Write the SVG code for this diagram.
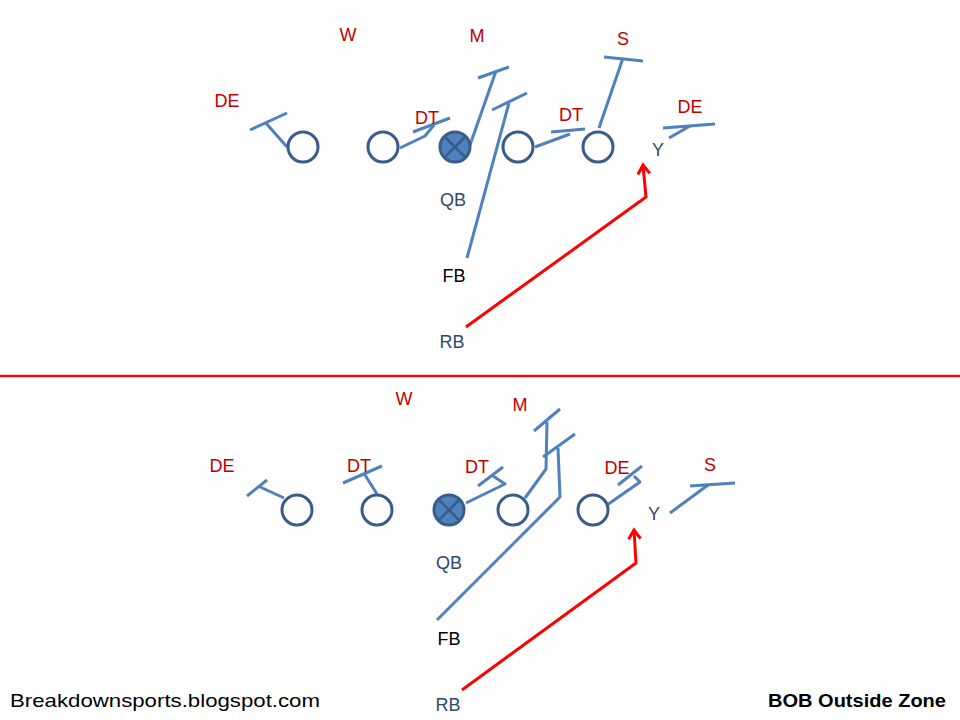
<svg xmlns="http://www.w3.org/2000/svg" width="960" height="720" viewBox="0 0 960 720">
<style>
.bg{fill:#FFFFFF}
.pl{fill:#FFFFFF;stroke:#385D8A;stroke-width:3}
.qb{fill:#4F81BD;stroke:#385D8A;stroke-width:3}
.x{stroke:#385D8A;stroke-width:2.5}
.blk{fill:none;stroke:#4F81BD;stroke-width:3;stroke-linejoin:round}
.run{fill:none;stroke:#FF0000;stroke-width:3;stroke-linejoin:round}
.div{stroke:#E81010;stroke-width:2.5}
text{font-family:"Liberation Sans","DejaVu Sans",sans-serif;font-size:18px;text-anchor:middle}
.def{fill:#C00000}
.off{fill:#2E4A6B}
.fb{fill:#000000}
.foot{fill:#000000;font-size:19px}
.title{fill:#000000;font-size:19px;font-weight:bold}
</style>
<defs>
<marker id="arr" viewBox="0 0 20 20" refX="10" refY="10" markerWidth="20" markerHeight="20" markerUnits="userSpaceOnUse" orient="auto">
<path d="M1,4 L10,10 L1,16" fill="none" stroke="#FF0000" stroke-width="3"/>
</marker>
</defs>
<rect class="bg" x="0" y="0" width="960" height="720"/>

<g id="divider"><line class="div" x1="0" y1="376" x2="960" y2="376"/></g>

<!-- TOP PLAY -->
<g id="top-connectors">
<polyline class="blk" points="287,147 265,122"/>
<line class="blk" x1="250" y1="130" x2="287" y2="113"/>
<polyline class="blk" points="400,148 425,136 434,125"/>
<line class="blk" x1="413" y1="132" x2="450" y2="118"/>
<polyline class="blk" points="470,145 496,71"/>
<line class="blk" x1="478" y1="78" x2="509" y2="67"/>
<polyline class="blk" points="467,258 509,103"/>
<line class="blk" x1="492" y1="110" x2="527" y2="93"/>
<polyline class="blk" points="535,147 570,134"/>
<line class="blk" x1="551" y1="132" x2="585" y2="129"/>
<polyline class="blk" points="599,128 623,58"/>
<line class="blk" x1="604" y1="57" x2="643" y2="61"/>
<polyline class="blk" points="669,138 690,126"/>
<line class="blk" x1="663" y1="128" x2="715" y2="124"/>
<polyline class="run" points="466,327 646,197 643,165" marker-end="url(#arr)"/>
</g>

<g id="top-LT"><circle class="pl" cx="303" cy="147" r="15"/></g>
<g id="top-LG"><circle class="pl" cx="383" cy="147" r="15"/></g>
<g id="top-C"><circle class="qb" cx="455" cy="147" r="15"/><line class="x" x1="444.5" y1="136.5" x2="465.5" y2="157.5"/><line class="x" x1="465.5" y1="136.5" x2="444.5" y2="157.5"/></g>
<g id="top-RG"><circle class="pl" cx="518" cy="147" r="15"/></g>
<g id="top-RT"><circle class="pl" cx="598" cy="147" r="15"/></g>

<g id="top-labels">
<text class="def" x="348" y="41">W</text>
<text class="def" x="477" y="42">M</text>
<text class="def" x="623" y="45">S</text>
<text class="def" x="227" y="107">DE</text>
<text class="def" x="427" y="124">DT</text>
<text class="def" x="571" y="121">DT</text>
<text class="def" x="690" y="113">DE</text>
<text class="off" x="658" y="156">Y</text>
<text class="off" x="453" y="206">QB</text>
<text class="fb" x="454" y="282">FB</text>
<text class="off" x="452" y="348">RB</text>
</g>

<!-- BOTTOM PLAY -->
<g id="bottom-connectors">
<polyline class="blk" points="284,498 258,486"/>
<line class="blk" x1="247" y1="496" x2="267" y2="480"/>
<polyline class="blk" points="377,494 365,475"/>
<line class="blk" x1="343" y1="483" x2="382" y2="466"/>
<polyline class="blk" points="466,503 505,484 493,476"/>
<line class="blk" x1="478" y1="486" x2="503" y2="467"/>
<polyline class="blk" points="525,498 546,469 547,422"/>
<line class="blk" x1="534" y1="431" x2="560" y2="409"/>
<polyline class="blk" points="437,620 560,497 558,448"/>
<line class="blk" x1="543" y1="457" x2="575" y2="434"/>
<polyline class="blk" points="607,505 640,482 634,476"/>
<line class="blk" x1="618" y1="485" x2="642" y2="466"/>
<polyline class="blk" points="670,513 708,485"/>
<line class="blk" x1="690" y1="486" x2="735" y2="483"/>
<polyline class="run" points="462,690 636,563 634,530" marker-end="url(#arr)"/>
</g>

<g id="bot-LT"><circle class="pl" cx="297" cy="510" r="15"/></g>
<g id="bot-LG"><circle class="pl" cx="377" cy="510" r="15"/></g>
<g id="bot-C"><circle class="qb" cx="449" cy="510" r="15"/><line class="x" x1="438.5" y1="499.5" x2="459.5" y2="520.5"/><line class="x" x1="459.5" y1="499.5" x2="438.5" y2="520.5"/></g>
<g id="bot-RG"><circle class="pl" cx="513" cy="510" r="15"/></g>
<g id="bot-RT"><circle class="pl" cx="593" cy="510" r="15"/></g>

<g id="bottom-labels">
<text class="def" x="404" y="405">W</text>
<text class="def" x="520" y="411">M</text>
<text class="def" x="222" y="472">DE</text>
<text class="def" x="359" y="472">DT</text>
<text class="def" x="477" y="473">DT</text>
<text class="def" x="617" y="474">DE</text>
<text class="def" x="710" y="471">S</text>
<text class="off" x="654" y="520">Y</text>
<text class="off" x="449" y="569">QB</text>
<text class="fb" x="449" y="645">FB</text>
<text class="off" x="448" y="711">RB</text>
</g>

<g id="footer">
<text class="foot" x="10" y="707" style="text-anchor:start" textLength="310" lengthAdjust="spacingAndGlyphs">Breakdownsports.blogspot.com</text>
<text class="title" x="946" y="707" style="text-anchor:end" textLength="178" lengthAdjust="spacingAndGlyphs">BOB Outside Zone</text>
</g>
</svg>
